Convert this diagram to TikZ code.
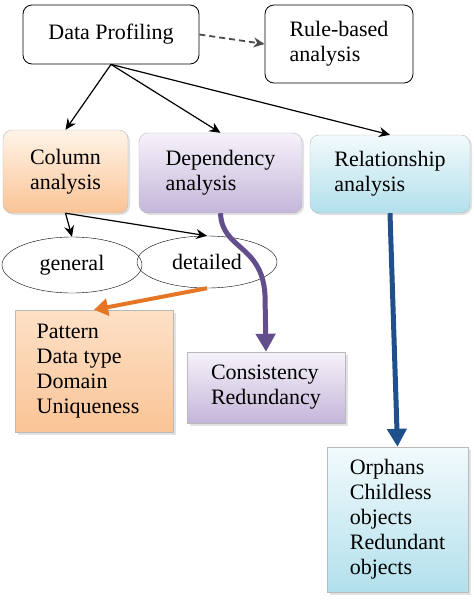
\documentclass[tikz,border=0pt]{standalone}
\usepackage{fontspec}
\setmainfont{Liberation Serif}
\usetikzlibrary{arrows.meta,shapes.geometric,shadows}

\definecolor{peachtop}{RGB}{255,244,232}
\definecolor{peachbot}{RGB}{250,196,150}
\definecolor{lilactop}{RGB}{246,242,250}
\definecolor{lilacbot}{RGB}{196,182,218}
\definecolor{icetop}{RGB}{242,250,252}
\definecolor{icebot}{RGB}{178,224,236}
\definecolor{orangearr}{RGB}{228,118,38}
\definecolor{purplearr}{RGB}{98,78,140}
\definecolor{bluearr}{RGB}{32,80,140}

\tikzset{
    txt/.style={font=\fontsize{22pt}{25pt}\selectfont, align=left, inner sep=0pt},
    plainbox/.style={txt, draw, thick, rounded corners=9pt, fill=white},
    softbox/.style={txt, draw=gray!55, rounded corners=9pt,
        drop shadow={shadow xshift=2pt, shadow yshift=-2pt, fill=gray!45}},
    leafbox/.style={txt, draw=gray!55,
        drop shadow={shadow xshift=3pt, shadow yshift=-3pt, fill=gray!45}},
    oval/.style={txt, draw, ellipse},
    thin/.style={line width=1.2pt, -{Stealth[length=11pt,width=10pt]}},
    fat/.style={line width=#1, -{Triangle[length=18pt,width=19pt]}}
}

\begin{document}
\begin{tikzpicture}[x=1pt, y=-1pt]
    \useasboundingbox (0,0) rectangle (474,603);

    \node[plainbox, minimum width=176pt, minimum height=59pt] (dp) at (111,34.5) {Data Profiling};
    \node[plainbox, minimum width=148pt, minimum height=78pt] (rb) at (339,44) {Rule-based\\analysis};

    \node[softbox, top color=peachtop, bottom color=peachbot,
        minimum width=125pt, minimum height=83pt] (col) at (65.5,171.5) {Column\\analysis};
    \node[softbox, top color=lilactop, bottom color=lilacbot,
        minimum width=163pt, minimum height=80pt] (dep) at (220.5,173) {Dependency\\analysis};
    \node[softbox, top color=icetop, bottom color=icebot,
        minimum width=160pt, minimum height=78pt] (rel) at (390,174) {Relationship\\analysis};

    \node[oval, minimum width=140pt, minimum height=56pt] (gen) at (72,265) {general};
    \node[oval, minimum width=140pt, minimum height=52pt] (det) at (207,262) {detailed};

    \node[leafbox, top color=peachtop!60!peachbot, bottom color=peachbot,
        minimum width=158pt, minimum height=122pt] (pat) at (94,371)
        {Pattern\\Data type\\Domain\\Uniqueness\hspace*{12pt}};
    \node[leafbox, top color=lilactop, bottom color=lilacbot,
        minimum width=158pt, minimum height=71pt] (con) at (266,387.5)
        {Consistency\\Redundancy};
    \node[leafbox, top color=icetop, bottom color=icebot,
        minimum width=141pt, minimum height=145pt] (orp) at (397.5,519.5)
        {Orphans\\Childless\\objects\\Redundant\\objects};

    \draw[gray!60!black, line width=1.8pt, dash pattern=on 6pt off 4pt,
        -{Stealth[length=11pt,width=10pt]}] (dp.east) -- (rb.west);
    \foreach \t in {col, dep, rel}
        \draw[thin] (dp.south) -- (\t.north);
    \draw[thin] (col.south) -- (gen.north);
    \draw[thin] (col.south) -- (det.north);

    \draw[orangearr, line width=4pt, -{Triangle[length=14pt,width=17pt]}] (det.south) -- (pat.north);
    \draw[purplearr, fat=5pt] (dep.south) .. controls (222,250) and (262,244) .. (265,295) -- (con.north);
    \draw[bluearr, fat=5pt] (rel.south) -- (orp.north);
\end{tikzpicture}
\end{document}
